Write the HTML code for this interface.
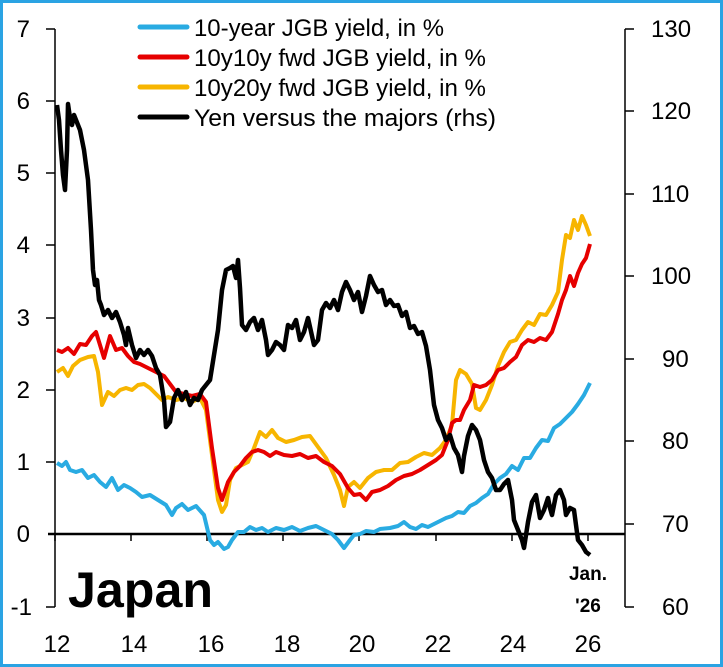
<!DOCTYPE html>
<html><head><style>
html,body{margin:0;padding:0;background:#fff;}
svg{display:block;font-family:"Liberation Sans",sans-serif;}
</style></head><body>
<svg width="723" height="667" viewBox="0 0 723 667" xmlns="http://www.w3.org/2000/svg">
<rect x="1.5" y="1.5" width="720" height="664" fill="#fff" stroke="#2aa3e3" stroke-width="3"/>
<g stroke="#000" stroke-width="1.5" fill="none">
<line x1="55" y1="29" x2="55" y2="607"/>
<line x1="625" y1="29" x2="625" y2="607"/>
<line x1="46" y1="29" x2="55" y2="29"/><line x1="46" y1="101" x2="55" y2="101"/><line x1="46" y1="173" x2="55" y2="173"/><line x1="46" y1="245" x2="55" y2="245"/><line x1="46" y1="318" x2="55" y2="318"/><line x1="46" y1="390" x2="55" y2="390"/><line x1="46" y1="462" x2="55" y2="462"/><line x1="46" y1="607" x2="55" y2="607"/>
<line x1="625" y1="29" x2="634" y2="29"/><line x1="625" y1="111" x2="634" y2="111"/><line x1="625" y1="194" x2="634" y2="194"/><line x1="625" y1="276" x2="634" y2="276"/><line x1="625" y1="359" x2="634" y2="359"/><line x1="625" y1="441" x2="634" y2="441"/><line x1="625" y1="524" x2="634" y2="524"/><line x1="625" y1="607" x2="634" y2="607"/>
</g>
<line x1="48" y1="534" x2="625" y2="534" stroke="#000" stroke-width="2.5"/>
<g stroke="#000" stroke-width="1.5">
<line x1="55" y1="534" x2="55" y2="541"/><line x1="131" y1="534" x2="131" y2="541"/><line x1="207" y1="534" x2="207" y2="541"/><line x1="283" y1="534" x2="283" y2="541"/><line x1="359" y1="534" x2="359" y2="541"/><line x1="436" y1="534" x2="436" y2="541"/><line x1="512" y1="534" x2="512" y2="541"/><line x1="588" y1="534" x2="588" y2="541"/>
</g>
<g font-size="24" fill="#000" text-anchor="end">
<text x="30" y="37">7</text><text x="30" y="109">6</text><text x="30" y="181">5</text><text x="30" y="253">4</text><text x="30" y="326">3</text><text x="30" y="398">2</text><text x="30" y="470">1</text><text x="30" y="542">0</text><text x="32" y="615">-1</text>
</g>
<g font-size="24" fill="#000" text-anchor="start">
<text x="651" y="37">130</text><text x="651" y="119">120</text><text x="651" y="202">110</text><text x="651" y="284">100</text><text x="662" y="367">90</text><text x="662" y="449">80</text><text x="662" y="532">70</text><text x="662" y="615">60</text>
</g>
<g font-size="24" fill="#000" text-anchor="middle">
<text x="57" y="652">12</text><text x="134" y="652">14</text><text x="211" y="652">16</text><text x="287" y="652">18</text><text x="362" y="652">20</text><text x="438" y="652">22</text><text x="513" y="652">24</text><text x="588" y="652">26</text>
</g>
<g fill="none" stroke-width="4" stroke-linejoin="round">
<polyline stroke="#29abe2" points="57,463 62,466 66,462 70,470 76,472 82,470 88,478 94,475 100,482 106,487 112,478 118,490 124,485 130,488 136,492 142,497 150,495 158,500 166,505 172,515 176,508 182,504 188,510 196,506 204,515 210,540 214,545 218,542 224,549 228,547 232,540 238,532 244,532 250,527 256,530 262,528 268,532 276,528 284,530 292,527 300,531 308,528 316,526 324,530 332,534 338,540 344,548 350,540 354,535 360,534 366,531 374,532 380,529 390,528 398,526 404,522 410,527 416,529 422,525 428,527 434,524 440,521 446,518 452,516 458,512 464,513 470,506 476,503 482,498 488,494 494,484 500,478 506,474 512,466 518,470 524,458 530,458 536,448 542,440 548,441 554,428 560,424 566,418 572,412 578,404 584,395 590,383"/>
<polyline stroke="#f7b500" points="57,372 63,368 68,376 73,366 80,360 88,357 94,356 98,372 102,405 108,392 114,396 120,390 126,388 132,390 138,385 144,384 150,388 156,394 162,400 168,397 176,400 184,398 192,402 200,398 206,410 212,455 218,500 222,512 226,505 230,480 236,468 242,465 248,462 254,448 260,432 266,437 272,430 278,438 286,442 294,440 302,437 310,436 318,447 326,458 334,475 340,490 344,506 348,487 354,482 360,488 368,478 376,472 384,470 392,470 400,463 408,462 416,457 424,453 432,455 440,448 446,440 452,425 456,380 460,370 466,374 472,384 476,408 480,410 486,400 492,385 498,366 504,352 510,342 516,340 522,330 528,322 534,325 540,314 546,315 552,305 558,292 562,260 566,235 570,238 574,220 578,230 582,216 586,225 590,236"/>
<polyline stroke="#e60000" points="57,350 62,352 68,348 74,354 80,344 86,345 92,336 96,332 100,345 104,358 110,336 116,350 122,348 128,356 134,362 140,364 148,368 156,372 164,376 170,384 176,392 184,394 192,396 200,394 206,402 212,448 218,488 222,500 228,482 234,472 240,466 246,458 252,452 258,450 264,452 270,456 276,452 284,455 292,456 300,454 308,458 316,456 324,462 332,466 340,474 348,488 354,495 360,494 366,500 372,492 380,490 388,486 396,480 404,476 412,474 420,470 428,465 436,460 442,455 448,440 452,423 456,420 460,420 464,410 470,400 474,385 480,387 486,385 492,380 498,370 504,368 510,362 516,357 522,345 528,340 534,342 540,338 546,340 552,332 558,314 562,300 566,290 570,276 574,286 578,273 582,264 586,258 590,244"/>
<polyline stroke="#000" stroke-width="4.5" points="57,105 59,120 61,150 63,175 65,190 67,150 68,104 70,118 72,125 74,115 76,120 80,130 84,150 88,180 91,230 93,270 95,285 97,280 99,300 101,305 104,315 108,310 112,318 116,312 120,322 124,335 126,345 128,328 132,345 136,358 140,350 144,355 148,350 152,356 156,368 160,375 164,400 166,427 170,422 174,398 178,390 182,400 186,392 190,405 194,398 198,400 202,390 206,385 210,380 214,355 218,330 222,290 226,270 230,268 233,266 236,278 238,260 240,288 242,325 246,330 250,322 254,318 258,330 262,320 266,340 268,355 272,350 276,342 280,345 284,350 288,325 292,328 296,320 300,340 304,332 308,318 312,336 314,345 318,340 322,310 326,303 330,308 334,300 338,310 342,292 346,282 350,290 354,300 358,292 362,312 366,296 370,276 374,285 378,292 382,290 386,305 390,300 394,306 398,305 402,316 406,312 410,328 414,326 418,334 422,332 426,346 430,370 434,405 438,420 442,428 446,440 450,435 454,448 458,455 462,472 464,456 468,436 472,425 476,430 480,440 484,460 488,472 492,478 496,490 500,490 504,484 508,480 512,500 514,520 518,530 522,540 524,548 528,522 532,502 536,495 540,518 544,510 548,498 550,508 552,515 556,495 560,490 564,500 566,515 570,508 574,510 578,540 582,545 586,552 590,555"/>
</g>
<g stroke-width="5" stroke-linecap="round">
<line x1="140" y1="27" x2="187" y2="27" stroke="#29abe2"/>
<line x1="140" y1="57" x2="187" y2="57" stroke="#e60000"/>
<line x1="140" y1="87" x2="187" y2="87" stroke="#f7b500"/>
<line x1="140" y1="117" x2="187" y2="117" stroke="#000"/>
</g>
<g font-size="24" fill="#000">
<text x="194" y="36" textLength="250" lengthAdjust="spacingAndGlyphs">10-year JGB yield, in %</text>
<text x="194" y="66" textLength="292" lengthAdjust="spacingAndGlyphs">10y10y fwd JGB yield, in %</text>
<text x="194" y="96" textLength="292" lengthAdjust="spacingAndGlyphs">10y20y fwd JGB yield, in %</text>
<text x="194" y="126" textLength="302" lengthAdjust="spacingAndGlyphs">Yen versus the majors (rhs)</text>
</g>
<text x="68" y="607" font-size="50" font-weight="bold" fill="#000" textLength="145" lengthAdjust="spacingAndGlyphs">Japan</text>
<text x="588" y="580" font-size="19" font-weight="bold" text-anchor="middle">Jan.</text>
<text x="588" y="612" font-size="19" font-weight="bold" text-anchor="middle">'26</text>
</svg>
</body></html>
